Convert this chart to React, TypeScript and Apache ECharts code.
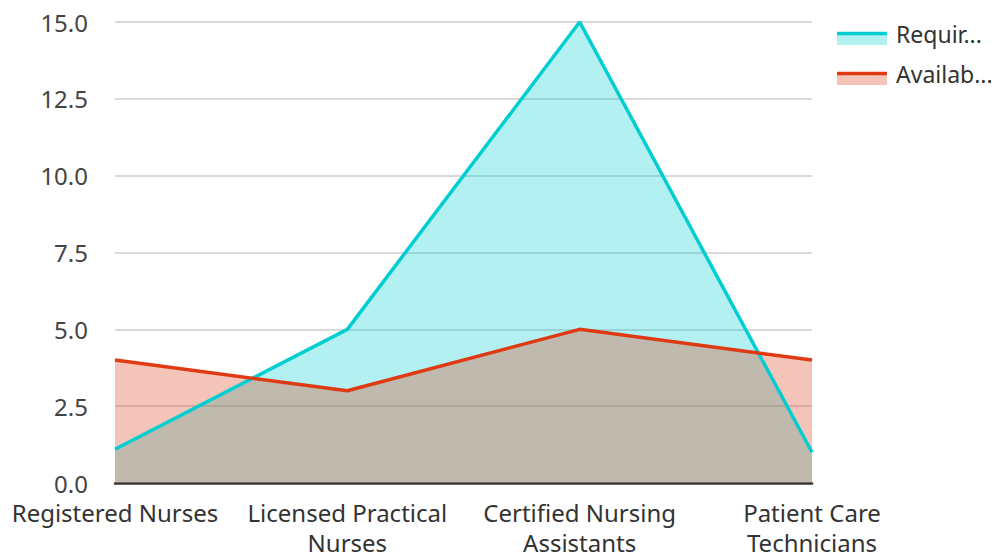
import React, { useEffect, useRef } from "react";
import * as echarts from "echarts";

const categories = [
  "Registered Nurses",
  "Licensed Practical Nurses",
  "Certified Nursing Assistants",
  "Patient Care Technicians",
];
const axisLabels = [
  "Registered Nurses",
  "Licensed Practical\nNurses",
  "Certified Nursing\nAssistants",
  "Patient Care\nTechnicians",
];
const seriesNames = ["Required", "Available"];
const legendLabels = ["Requir...", "Availab..."];
const required = [1.1, 5, 15, 1];
const available = [4, 3, 5, 4];
const colors = ["#00CED1", "#DF3A14"];

const FONT = "'Noto Sans', 'Open Sans', sans-serif";
const OFF = 8; // body margin

export default function App() {
  const ref = useRef<HTMLDivElement>(null);
  useEffect(() => {
    if (!ref.current) return;
    const chart = echarts.init(ref.current, undefined, { renderer: "svg" });
    const legendItems: any[] = [];
    seriesNames.forEach((_, i) => {
      const y = 33.5 + i * 40 - OFF;
      const x = 837 - OFF;
      legendItems.push({
        type: "rect",
        shape: { x: x, y: y + 1.5, width: 50, height: 10 },
        style: { fill: colors[i], opacity: 0.3 },
      });
      legendItems.push({
        type: "line",
        shape: { x1: x, y1: y, x2: x + 50, y2: y },
        style: { stroke: colors[i], lineWidth: 3.5 },
      });
      legendItems.push({
        type: "text",
        x: x + 59,
        y: y + 0.5,
        style: {
          text: legendLabels[i],
          fill: "#333",
          font: `23px ${FONT}`,
          verticalAlign: "middle",
          align: "left",
        },
      });
    });
    chart.setOption({
      animation: false,
      textStyle: { fontFamily: FONT },
      grid: { left: 115 - OFF, right: 188, top: 22 - OFF, bottom: 71, containLabel: false },
      xAxis: {
        type: "category",
        data: categories,
        boundaryGap: false,
        axisLine: { show: true, lineStyle: { color: "#333", width: 2.5 } },
        axisTick: { show: false },
        axisLabel: {
          interval: 0,
          formatter: (_v: string, idx: number) => axisLabels[idx],
          color: "#333",
          fontSize: 24,
          lineHeight: 30,
          margin: 14,
          fontFamily: FONT,
        },
        splitLine: { show: false },
      },
      yAxis: {
        type: "value",
        min: 0,
        max: 15,
        interval: 2.5,
        axisLine: { show: false },
        axisTick: { show: false },
        axisLabel: {
          formatter: (v: number) => v.toFixed(1),
          color: "#444",
          fontSize: 24,
          margin: 27,
          fontFamily: FONT,
        },
        splitLine: { lineStyle: { color: "#ccc", width: 1.5 } },
      },
      series: [
        {
          name: seriesNames[0],
          type: "line",
          data: required,
          symbol: "none",
          lineStyle: { color: colors[0], width: 3.5 },
          itemStyle: { color: colors[0] },
          areaStyle: { color: colors[0], opacity: 0.3 },
        },
        {
          name: seriesNames[1],
          type: "line",
          data: available,
          symbol: "none",
          lineStyle: { color: colors[1], width: 3.5 },
          itemStyle: { color: colors[1] },
          areaStyle: { color: colors[1], opacity: 0.3 },
        },
      ],
      graphic: legendItems,
    });
    return () => chart.dispose();
  }, []);
  return <div ref={ref} style={{ width: 1000 - OFF, height: 557 - OFF }} />;
}
